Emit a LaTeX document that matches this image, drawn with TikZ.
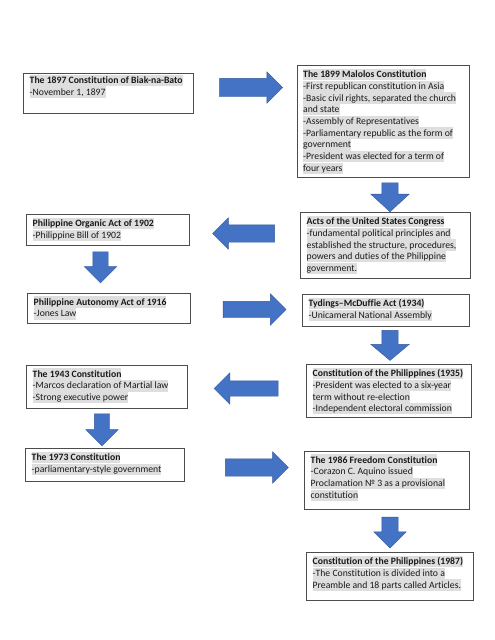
\documentclass[tikz,border=0pt]{standalone}
\usepackage{fontspec}
\setmainfont{Carlito}[Ligatures={TeX,NoCommon}]
\newfontfamily\dejavu{DejaVu Sans}
\usetikzlibrary{shapes.arrows,calc}
\definecolor{arrowblue}{HTML}{4472C4}
\definecolor{hlgray}{HTML}{DEDEDE}
\setlength{\fboxsep}{0pt}
\newcommand{\hlline}[1]{\colorbox{hlgray}{\rule[-2.6pt]{0pt}{11.4pt}#1}}
\newcommand{\numsign}{\iffontchar\font"2116 \char"2116\else{\dejavu\char"2116}\fi}
\begin{document}
\begin{tikzpicture}[x=1pt,y=-1pt,
  box/.style={draw=black!70, line width=0.8pt, fill=white, inner sep=0pt, anchor=north west},
  txt/.style={anchor=north west, inner sep=0pt, align=left, font=\fontsize{9.7}{11.7}\selectfont, text=black!90},
  barrow/.style={single arrow, fill=arrowblue, draw=arrowblue!80!black, line width=0.4pt, inner xsep=0pt, anchor=center}]
\useasboundingbox[fill=white] (0,0) rectangle (495,640);

% boxes
\node[box, minimum width=170, minimum height=40] (b1) at (23,73) {};
\node[box, minimum width=172, minimum height=112] (b2) at (297,65) {};
\node[box, minimum width=163, minimum height=31] (b3) at (26,214) {};
\node[box, minimum width=170, minimum height=66] (b4) at (300,212) {};
\node[box, minimum width=163, minimum height=30] (b5) at (27,293) {};
\node[box, minimum width=167, minimum height=32] (b6) at (302,294) {};
\node[box, minimum width=161, minimum height=43] (b7) at (26,365) {};
\node[box, minimum width=165, minimum height=53] (b8) at (306,364) {};
\node[box, minimum width=159, minimum height=33] (b9) at (25,448) {};
\node[box, minimum width=165, minimum height=58] (b10) at (304,451) {};
\node[box, minimum width=167, minimum height=48] (b11) at (306,552) {};

% texts
\node[txt] (t1) at ($(b1.north west)+(6.5,1.5)$) {\hlline{\textbf{The 1897 Constitution of Biak-na-Bato}}\\\hlline{-November 1, 1897}};
\node[txt] (t2) at ($(b2.north west)+(6,3.7)$) {\hlline{\textbf{The 1899 Malolos Constitution}}\\
\hlline{-First republican constitution in Asia}\\
\hlline{-Basic civil rights, separated the church}\\
\hlline{and state}\\
\hlline{-Assembly of Representatives}\\
\hlline{-Parliamentary republic as the form of}\\
\hlline{government}\\
\hlline{-President was elected for a term of}\\
\hlline{four years}};
\node[txt] (t3) at ($(b3.north west)+(6.5,3.7)$) {\hlline{\textbf{Philippine Organic Act of 1902}}\\\hlline{-Philippine Bill of 1902}};
\node[txt] (t4) at ($(b4.north west)+(6.5,3.7)$) {\hlline{\textbf{Acts of the United States Congress}}\\
\hlline{-fundamental political principles and}\\
\hlline{established the structure, procedures,}\\
\hlline{powers and duties of the Philippine}\\
\hlline{government.}};
\node[txt] (t5) at ($(b5.north west)+(6.5,3.2)$) {\hlline{\textbf{Philippine Autonomy Act of 1916}}\\\hlline{-Jones Law}};
\node[txt] (t6) at ($(b6.north west)+(6.5,3.7)$) {\hlline{\textbf{Tydings–McDuffie Act (1934)}}\\\hlline{-Unicameral National Assembly}};
\node[txt] (t7) at ($(b7.north west)+(6.5,3.2)$) {\hlline{\textbf{The 1943 Constitution}}\\
\hlline{-Marcos declaration of Martial law}\\
\hlline{-Strong executive power}};
\node[txt] (t8) at ($(b8.north west)+(6.5,3.7)$) {\hlline{\textbf{Constitution of the Philippines (1935)}}\\
\hlline{-President was elected to a six-year}\\
\hlline{term without re-election}\\
\hlline{-Independent electoral commission}};
\node[txt] (t9) at ($(b9.north west)+(6.5,3.7)$) {\hlline{\textbf{The 1973 Constitution}}\\\hlline{-parliamentary-style government}};
\node[txt] (t10) at ($(b10.north west)+(6.5,3.2)$) {\hlline{\textbf{The 1986 Freedom Constitution}}\\
\hlline{-Corazon C. Aquino issued}\\
\hlline{Proclamation \numsign{} 3 as a provisional}\\
\hlline{constitution}};
\node[txt] (t11) at ($(b11.north west)+(6.5,3.7)$) {\hlline{\textbf{Constitution of the Philippines (1987)}}\\
\hlline{-The Constitution is divided into a}\\
\hlline{Preamble and 18 parts called Articles.}};

% block arrows
\node[barrow, minimum height=63, inner ysep=9, single arrow head extend=6.5] (a1) at (246.5,87.5) {};
\node[barrow, rotate=270, minimum height=29, inner ysep=8, single arrow head extend=11, single arrow tip angle=95] (a2) at (390,193.5) {};
\node[barrow, rotate=180, minimum height=62, inner ysep=8.5, single arrow head extend=7] (a3) at (248,233.5) {};
\node[barrow, rotate=270, minimum height=31, inner ysep=7.5, single arrow head extend=8.5] (a4) at (100.5,263.5) {};
\node[barrow, minimum height=63, inner ysep=8, single arrow head extend=7.5] (a5) at (250.5,309.5) {};
\node[barrow, rotate=270, minimum height=30, inner ysep=8, single arrow head extend=11, single arrow tip angle=100] (a6) at (390,342) {};
\node[barrow, rotate=180, minimum height=64, inner ysep=7.5, single arrow head extend=8] (a7) at (250,388.5) {};
\node[barrow, rotate=270, minimum height=32, inner ysep=7.5, single arrow head extend=8.5] (a8) at (102,426) {};
\node[barrow, minimum height=63, inner ysep=8.5, single arrow head extend=7] (a9) at (252.5,467.5) {};
\node[barrow, rotate=270, minimum height=31, inner ysep=8, single arrow head extend=8] (a10) at (390,528.5) {};
\end{tikzpicture}
\end{document}
